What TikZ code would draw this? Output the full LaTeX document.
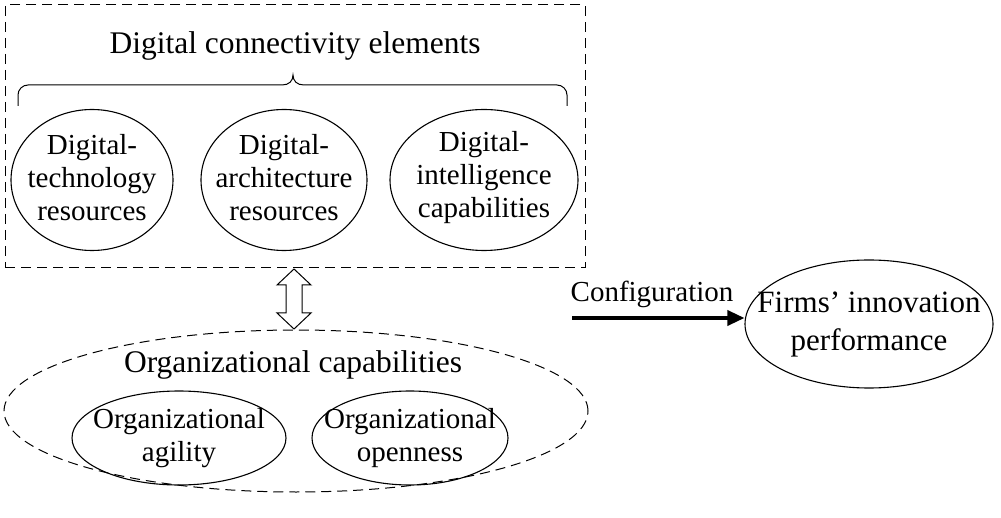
\documentclass[tikz,border=0pt]{standalone}
\usepackage{fontspec}
\setmainfont{Liberation Serif}
\usetikzlibrary{shapes.geometric,arrows.meta}
\begin{document}
\begin{tikzpicture}[x=1pt,y=-1pt,
  oval/.style={ellipse,draw,line width=1.1pt,inner sep=0pt},
  otext/.style={align=center,inner sep=0pt,font=\fontsize{29}{33}\selectfont},
  dashbox/.style={draw,line width=1pt,dash pattern=on 10pt off 6pt},
  lbl/.style={font=\fontsize{31.5}{34}\selectfont,inner sep=0pt}]
\useasboundingbox (0,0) rectangle (1001,518);
% top dashed box
\node[dashbox,minimum width=580pt,minimum height=263pt,inner sep=0pt] (topbox) at (295,136.5) {};
\node[lbl] (ttl) at (295,46) {Digital connectivity elements};
% brace
\draw[line width=1pt] (18,106) -- (18,95) arc[start angle=180,end angle=270,radius=10] -- (282,85)
  .. controls (289,85) and (293,81) .. (293,75) .. controls (293,81) and (297,85) .. (304,85)
  -- (557,85) arc[start angle=270,end angle=360,radius=10] -- (567,106);
\node[oval,minimum width=162pt,minimum height=141pt] (e1) at (92,180) {};
\node[otext] (e1t) at (92,178) {Digital-\\technology\\resources};
\node[oval,minimum width=166pt,minimum height=141pt] (e2) at (284,180) {};
\node[otext] (e2t) at (284,178) {Digital-\\architecture\\resources};
\node[oval,minimum width=188pt,minimum height=141pt] (e3) at (484,180) {};
\node[otext] (e3t) at (484,178) {Digital-\\intelligence\\capabilities};
% bottom dashed ellipse
\node[ellipse,dashbox,minimum width=584pt,minimum height=162pt,inner sep=0pt] (botell) at (296,411) {};
\node[lbl] (ttl2) at (293,365) {Organizational capabilities};
\node[oval,minimum width=214pt,minimum height=94pt] (o1) at (179,438) {};
\node[otext] (o1t) at (o1) {Organizational\\agility};
\node[oval,minimum width=196pt,minimum height=94pt] (o2) at (410,438) {};
\node[otext] (o2t) at (o2) {Organizational\\openness};
% double arrow
\coordinate (da1) at (294,269);
\coordinate (da2) at (294,329);
\draw[line width=1pt,fill=white] (da1) -- ++(17,16) -- ++(-9,0) -- ++(0,28) -- ++(9,0) -- (da2)
  -- ++(-17,-16) -- ++(9,0) -- ++(0,-28) -- ++(-9,0) -- cycle;
% right
\node[oval,minimum width=248pt,minimum height=128pt] (firm) at (869,324) {};
\node[otext,font=\fontsize{31}{38}\selectfont] (firmt) at (firm) {Firms' innovation\\performance};
\coordinate (as) at (572,318);
\draw[line width=3.5pt,-{Triangle[length=17pt,width=15pt]}] (as) -- (firm.west |- as) coordinate (ae);
\node[font=\fontsize{29}{32}\selectfont,inner sep=0pt] (cfg) at (652,294) {Configuration};
\end{tikzpicture}
\end{document}
